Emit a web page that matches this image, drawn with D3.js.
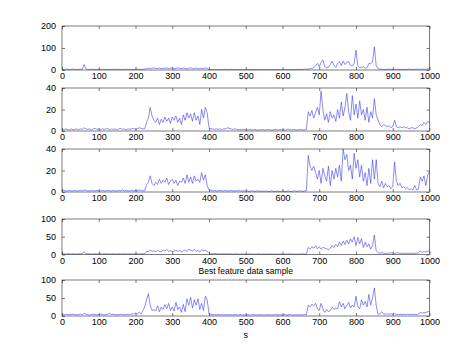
<!DOCTYPE html>
<html><head><meta charset="utf-8">
<script src="https://cdn.jsdelivr.net/npm/d3@7"></script>
<style>body{margin:0;background:#fff}svg{display:block}text{font-family:"Liberation Sans",Arial,Helvetica,sans-serif;fill:#000}</style>
</head><body><svg id="c" width="474" height="355"></svg>
<script>
// sample spacing along s (each array holds values at s = 0,5,10,...,1000)
const sampleStep = 5;
const xTicks = [0,100,200,300,400,500,600,700,800,900,1000];
const yTicks1 = [0,100,200];
const yTicks2 = [0,20,40];
const yTicks3 = [0,20,40];
const yTicks4 = [0,50,100];
const yTicks5 = [0,50,100];
const titleText = "Best feature data sample";
const xLabelText = "s";

const series1 = [
3,2,4,3,2,3,4,3,2,3,
4,3,25,5,3,2,3,4,2,3,
3,2,4,3,2,3,3,2,3,4,
2,3,3,2,3,4,2,3,3,2,
3,4,3,2,3,4,6,9,5,8,
10,6,7,9,5,8,7,10,6,8,
9,5,7,10,8,6,9,7,5,8,
10,6,7,9,5,8,7,6,9,8,
3,2,2,3,2,2,3,2,2,3,
2,2,3,2,2,2,3,2,2,2,
2,3,2,2,2,3,2,2,2,3,
2,2,2,3,2,2,2,3,2,2,
2,3,2,2,3,2,2,2,3,2,
2,3,3,4,4,6,8,10,20,30,
15,35,45,15,10,12,25,40,20,12,
30,38,20,40,25,35,38,22,18,30,
90,20,10,12,15,8,10,30,28,35,
105,20,6,4,3,3,2,3,4,3,
2,3,3,4,2,3,3,2,3,4,
3,2,3,4,3,2,3,4,3,5,
4];
const series2 = [
2,1,2,1.5,1,2,1,1.5,2,1,
2,1.5,3,2,1.5,2,1,2,2.5,1.5,
2,1,2,1.5,2,2.5,1,2,1.5,2,
1,2,2.5,1.5,2,1,2,1.5,2,2.5,
1.5,2,3,2.5,2,2,8,12,22,14,
10,8,12,6,11,8,13,9,12,7,
13,10,14,8,12,6,15,10,17,12,
16,9,17,10,14,6,20,12,22,17,
3,2,2,1.5,2,1.5,2,1.5,2,2,
3,2.5,2,1.5,2,1.5,1,1.5,1,1.5,
1,1,1.5,1,1,1.5,1,1,1,1.5,
1,1,1.5,1,1,1,1.5,1,1,1.5,
1,1,1,2,1,1,1.5,1,1,1,
1.5,1,1,1.5,18,14,19,12,17,22,
15,37,20,10,16,8,18,12,15,9,
20,12,27,14,22,35,18,10,33,15,
25,12,28,15,20,10,22,8,18,12,
30,15,10,6,4,6,5,4,5,3,
4,10,4,3,4,3,4,3,3,2,
3,3,2,3,4,6,5,8,6,9,
8];
const series3 = [
1,1.5,1,1,1.5,1,1,1.5,1,1,
1.5,1,2,1.5,1,1,1.5,1,1,1.5,
1,1,1.5,1,1,1.5,1,1,1.5,1,
1,1.5,1,2,1,1.5,1,1,1.5,1,
1.5,1,2,1.5,1,1.5,7,9,15,8,
6,9,7,12,8,11,9,13,7,10,
12,8,11,6,10,9,13,8,16,9,
14,8,15,10,12,9,18,11,16,6,
2,1.5,1,1.5,1,1,1.5,1,1,1.5,
1,1,1.5,1,1,1,1.5,1,1,1,
1,1,0.5,1,1,0.5,1,1,0.5,1,
0.5,1,0.5,0.5,1,0.5,0.5,1,0.5,0.5,
1,0.5,0.5,1,0.5,0.5,1,1,0.5,1,
1,0.5,1,1,34,24,20,24,18,12,
20,8,22,15,10,24,6,20,12,22,
14,25,10,40,30,35,20,25,12,36,
22,30,14,25,10,18,6,22,8,30,
12,30,8,5,10,4,8,5,6,3,
5,28,10,6,8,4,5,3,4,2,
3,2,6,2,3,14,10,15,6,15,
19];
const series4 = [
2,2,1,2,2,1,2,2,1,2,
2,2,8,3,2,2,1,2,2,1,
2,2,1,2,2,2,1,2,2,1,
2,2,1,2,2,1,2,2,1,2,
2,2,1,2,2,2,9,8,12,9,
10,8,11,9,7,12,10,14,9,11,
8,10,12,9,11,8,10,13,9,15,
12,10,14,9,11,8,13,10,12,9,
3,2,2,3,2,2,1,2,2,1,
2,1,2,1,1,2,1,1,2,1,
1,1,2,1,1,1,1,2,1,1,
1,1,1,2,1,1,1,1,1,2,
1,1,1,1,2,1,1,1,1,1,
1,2,1,1,20,15,22,18,25,16,
22,15,20,18,16,14,18,25,20,28,
22,35,25,38,28,40,30,44,35,50,
25,48,30,45,20,35,22,30,15,25,
55,10,5,4,5,4,3,4,3,5,
4,3,4,5,3,4,3,4,3,4,
3,4,3,4,5,10,6,8,7,9,
10];
const series5 = [
4,3,5,4,3,4,5,4,3,4,
5,4,7,5,4,3,4,5,4,3,
4,5,4,3,4,5,7,4,5,4,
3,4,5,4,3,4,5,4,6,5,
8,6,10,5,15,25,45,62,30,15,
18,14,28,12,25,18,32,20,35,15,
25,14,38,18,25,10,32,12,48,30,
52,22,45,30,48,18,35,15,55,45,
6,4,3,4,3,4,3,4,3,4,
3,4,3,3,4,3,3,4,3,3,
3,4,3,3,4,3,3,3,4,3,
3,3,4,3,3,3,4,3,3,3,
3,4,3,3,4,3,3,3,3,4,
3,3,4,3,30,25,33,28,35,20,
15,35,20,10,18,12,15,25,18,22,
20,40,25,35,20,30,38,22,30,25,
55,25,20,45,30,40,25,60,30,50,
78,30,5,6,12,6,5,6,5,6,
5,6,5,4,5,4,5,4,5,4,
5,4,5,4,6,10,8,9,10,12,
12];

const svg = d3.select("#c");
const left = 62, right = 429.5;
const panels = [
  {data: series1, ticks: yTicks1, top: 26, bottom: 70},
  {data: series2, ticks: yTicks2, top: 88, bottom: 131},
  {data: series3, ticks: yTicks3, top: 149, bottom: 192},
  {data: series4, ticks: yTicks4, top: 219, bottom: 254.5},
  {data: series5, ticks: yTicks5, top: 280, bottom: 316}
];
const x = d3.scaleLinear().domain([0, 1000]).range([left, right]);
const axisColor = "#262626";
const font = "'Liberation Sans',Arial,sans-serif";

panels.forEach(p => {
  const y = d3.scaleLinear().domain([0, d3.max(p.ticks)]).range([p.bottom, p.top]);
  const g = svg.append("g");
  const line = d3.line().x((d, i) => x(i * sampleStep)).y(d => y(d));
  g.append("path").datum(p.data).attr("d", line)
    .attr("fill", "none").attr("stroke", "#3030f0").attr("stroke-width", 0.7)
    .attr("stroke-opacity", 0.8).attr("stroke-linejoin", "round");
  g.append("rect").attr("x", left).attr("y", p.top)
    .attr("width", right - left).attr("height", p.bottom - p.top)
    .attr("fill", "none").attr("stroke", axisColor).attr("stroke-width", 0.6);
  const ax = g.append("g").attr("transform", `translate(0,${p.bottom})`)
    .call(d3.axisBottom(x).tickValues(xTicks).tickSize(-3).tickPadding(3).tickFormat(d3.format("d")));
  ax.select(".domain").remove();
  ax.selectAll("line").attr("stroke", axisColor).attr("stroke-width", 0.6);
  ax.selectAll("text").attr("font-size", 9).attr("dy", "0.71em")
    .attr("font-family", font).attr("fill", "#000");
  const axt = g.append("g").attr("transform", `translate(0,${p.top})`)
    .call(d3.axisTop(x).tickValues(xTicks).tickSize(-3).tickFormat(""));
  axt.select(".domain").remove();
  axt.selectAll("line").attr("stroke", axisColor).attr("stroke-width", 0.6);
  const ay = g.append("g").attr("transform", `translate(${left},0)`)
    .call(d3.axisLeft(y).tickValues(p.ticks).tickSize(-3).tickPadding(6).tickFormat(d3.format("d")));
  ay.select(".domain").remove();
  ay.selectAll("line").attr("stroke", axisColor).attr("stroke-width", 0.6);
  ay.selectAll("text").attr("font-size", 9)
    .attr("font-family", font).attr("fill", "#000");
  const ayr = g.append("g").attr("transform", `translate(${right},0)`)
    .call(d3.axisRight(y).tickValues(p.ticks).tickSize(-3).tickFormat(""));
  ayr.select(".domain").remove();
  ayr.selectAll("line").attr("stroke", axisColor).attr("stroke-width", 0.6);
});

svg.append("text").attr("x", (left + right) / 2).attr("y", 274)
  .attr("text-anchor", "middle").attr("font-size", 8.5).text(titleText);
svg.append("text").attr("x", (left + right) / 2).attr("y", 338)
  .attr("text-anchor", "middle").attr("font-size", 9).text(xLabelText);
</script></body></html>
